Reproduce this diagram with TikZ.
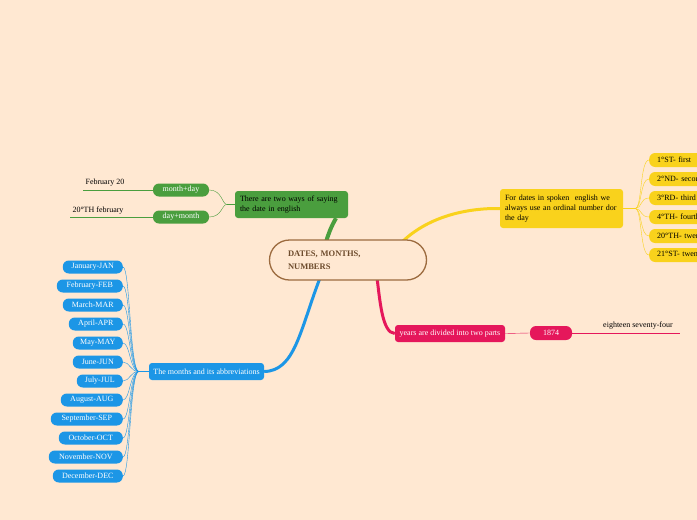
\documentclass[tikz,border=0pt]{standalone}
\usepackage{fontspec}
\setmainfont{Liberation Serif}
\begin{document}
\begin{tikzpicture}[x=1pt,y=-1pt,
 gpill/.style={rounded corners=6pt,fill=grn,text=white,font=\fontsize{8}{9}\selectfont,minimum height=13pt,inner xsep=6pt,inner ysep=0pt},
 ypill/.style={rounded corners=6pt,fill=ylw,text=black,font=\fontsize{8}{9}\selectfont,minimum height=14pt,anchor=west,inner xsep=8pt,inner ysep=0pt,text width=90pt,align=left},
 bpill/.style={rounded corners=6pt,fill=blu,text=white,font=\fontsize{8}{9}\selectfont,minimum height=13pt,anchor=east,inner xsep=6pt,inner ysep=0pt},
 plain/.style={font=\fontsize{8}{9}\selectfont,inner sep=1pt}]
\definecolor{bg}{HTML}{FFE8D2}
\definecolor{grn}{HTML}{4A9E3E}
\definecolor{ylw}{HTML}{F9D21C}
\definecolor{red1}{HTML}{E5175B}
\definecolor{blu}{HTML}{1C96E6}
\definecolor{brn}{HTML}{9C6B3F}
\clip (0,0) rectangle (697,520);
\fill[bg] (0,0) rectangle (697,520);
% main branches
\node[fill=grn,rounded corners=3pt,minimum width=113pt,minimum height=27pt,text width=103pt,align=left,font=\fontsize{8}{10}\selectfont] (g) at (291.5,204.5) {There are two ways of saying the date in english};
\node[fill=ylw,rounded corners=3pt,minimum width=123pt,minimum height=39pt,text width=113pt,align=left,font=\fontsize{8}{10}\selectfont] (y) at (561.5,208.5) {For dates in spoken\ \ english we always use an ordinal number dor the day};
\node[fill=red1,rounded corners=3pt,minimum width=110pt,minimum height=17pt,text=white,font=\fontsize{8}{9}\selectfont] (r) at (450,333.5) {years are divided into two parts};
\node[fill=blu,rounded corners=3pt,minimum width=115pt,minimum height=17pt,text=white,font=\fontsize{8}{9}\selectfont] (b) at (206.5,371.5) {The months and its abbreviations};
% main connectors
\coordinate (cg) at (326,242);
\coordinate (cy) at (402,242);
\coordinate (cr) at (377,278);
\coordinate (cb) at (320,278);
\draw[grn,line width=4pt] (cg) .. controls (329,232) and (332,225) .. (g.south -| 336,0);
\draw[ylw,line width=3pt] (cy) .. controls (430,215) and (470,208) .. (y.west);
\draw[red1,line width=3pt] (cr) .. controls (380,300) and (382,333) .. (r.west);
\draw[blu,line width=3pt] (cb) .. controls (300,330) and (295,371) .. (b.east);
% center
\node[draw=brn,line width=1.3pt,rounded corners=20pt,fill=bg,minimum width=157pt,minimum height=40pt,text width=120pt,align=left,font=\fontsize{8.5}{13}\selectfont\bfseries,text=brn!70!black] (c) at (348,260) {DATES, MONTHS,\\NUMBERS};
% green children
\node[gpill,minimum width=56pt] (g1) at (181,190) {month+day};
\node[gpill,minimum width=56pt] (g2) at (181,217) {day+month};
\draw[grn] (g.west) -- ++(-8,0) coordinate (gj);
\draw[grn] (gj) .. controls (222,204) and (222,190) .. (g1.east);
\draw[grn] (gj) .. controls (222,204) and (222,217) .. (g2.east);
\coordinate (ge1) at (83,190); \coordinate (ge2) at (70,217);
\draw[grn] (ge1) -- (g1.west); \draw[grn] (ge2) -- (g2.west);
\node[plain] at (105,183) {February 20};
\node[plain] at (98,211) {20°TH february};
% yellow children
\draw[ylw] (y.east) -- ++(12,0) coordinate (yj);
\foreach \t [count=\i] in {1°ST- first,2°ND- second,3°RD- third,4°TH- fourth,20°TH- twentieth,21°ST- twenty-first}{
  \node[ypill] (y\i) at (649,141+19*\i) {\t};
  \draw[ylw] (yj) .. controls (642,208.5) and (640,141+19*\i) .. (y\i.west);
}
% red children
\node[fill=red1,rounded corners=6pt,text=white,font=\fontsize{8}{9}\selectfont,minimum width=42pt,minimum height=14pt,inner sep=0pt] (r1) at (551,333) {1874};
\draw[red1] (r.east) -- (r1.west);
\coordinate (re) at (680,333);
\draw[red1] (r1.east) -- (re);
\node[plain] at (638,326) {eighteen seventy-four};
% blue children
\draw[blu] (b.west) -- ++(-10,0) coordinate (bj);
\foreach \t/\w [count=\i] in {January-JAN/60,February-FEB/66,March-MAR/60,April-APR/54,May-MAY/50,June-JUN/50,July-JUL/46,August-AUG/62,September-SEP/72,October-OCT/64,November-NOV/74,December-DEC/70}{
  \node[bpill,minimum width=\w pt] (m\i) at (123,248+19*\i) {\t};
  \draw[blu] (bj) .. controls (130,371.5) and (130,248+19*\i) .. (m\i.east);
}
\end{tikzpicture}
\end{document}
